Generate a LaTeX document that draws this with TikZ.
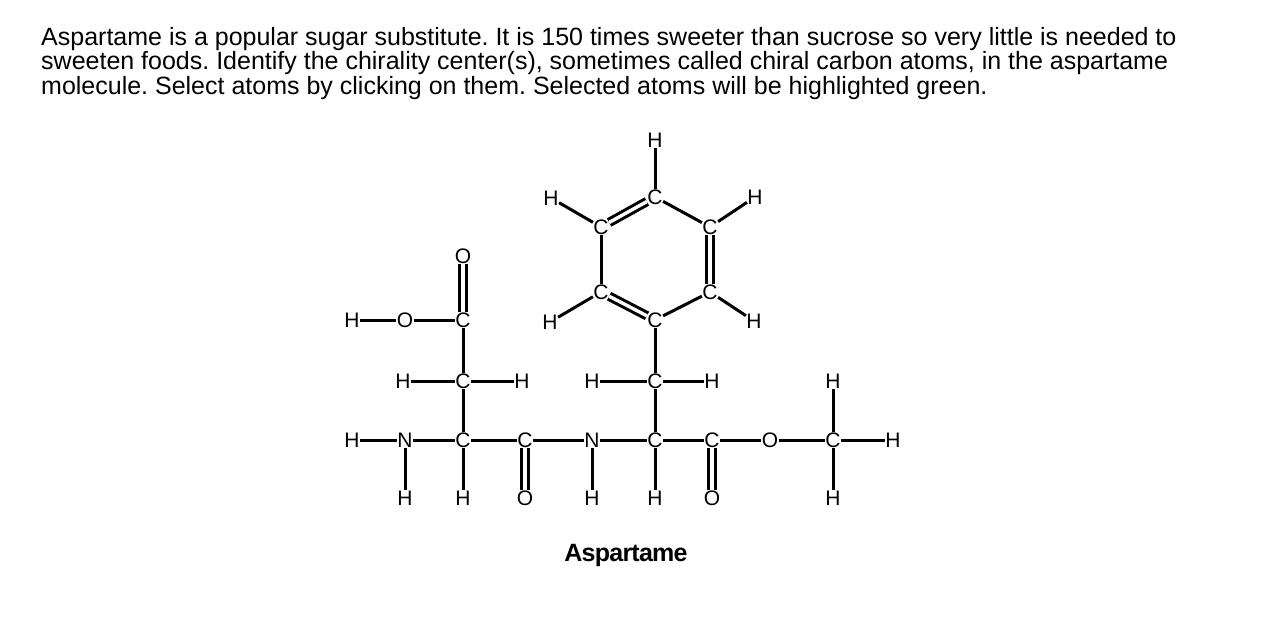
\documentclass[tikz,border=0pt]{standalone}
\usepackage{fontspec}
\setmainfont{Liberation Sans}
\begin{document}
\frenchspacing
\begin{tikzpicture}[x=1pt,y=-1pt,
 atm/.style={font=\fontsize{21}{21}\selectfont, inner sep=0.3pt},
 b/.style={line width=3pt},
 db/.style={line width=3pt, double, double distance=3.4pt}]
\useasboundingbox[fill=white] (0,0) rectangle (1266,626);
\node[anchor=north west, align=left, font=\fontsize{25}{24.5}\selectfont, inner sep=0] (txt) at (41,27)
{Aspartame is a popular sugar substitute. It is 150 times sweeter than sucrose so very little is needed to\\
sweeten foods. Identify the chirality center(s), sometimes called chiral carbon atoms, in the aspartame\\
molecule. Select atoms by clicking on them. Selected atoms will be highlighted green.};
% ring
\node[atm] (Ht) at (655,140) {H};
\node[atm] (C1) at (655,197) {C};
\node[atm] (C2) at (601,227) {C};
\node[atm] (C3) at (710,227) {C};
\node[atm] (C4) at (601,292) {C};
\node[atm] (C5) at (710,292) {C};
\node[atm] (C6) at (655,320) {C};
\node[atm] (H2) at (551,198) {H};
\node[atm] (H3) at (755,197) {H};
\node[atm] (H4) at (550,322) {H};
\node[atm] (H5) at (754,321) {H};
\draw[b] (Ht)--(C1); \draw[db] (C1)--(C2); \draw[b] (C1)--(C3);
\draw[b] (C2)--(C4); \draw[db] (C3)--(C5); \draw[db] (C4)--(C6); \draw[b] (C5)--(C6);
\draw[b] (H2)--(C2); \draw[b] (H3)--(C3); \draw[b] (H4)--(C4); \draw[b] (H5)--(C5);
% left part
\node[atm] (Ha) at (352,320) {H};
\node[atm] (Oa) at (405,320) {O};
\node[atm] (Ca) at (463,320) {C};
\node[atm] (Ob) at (463,256) {O};
\node[atm] (Hb) at (403,381) {H};
\node[atm] (Cb) at (463,381) {C};
\node[atm] (Hc) at (522,381) {H};
\node[atm] (Hd) at (352,440) {H};
\node[atm] (Na) at (405,440) {N};
\node[atm] (Cc) at (463,440) {C};
\node[atm] (Cd) at (525,440) {C};
\node[atm] (Nb) at (592,440) {N};
\node[atm] (He) at (405,498) {H};
\node[atm] (Hf) at (463,498) {H};
\node[atm] (Oc) at (525,498) {O};
\node[atm] (Hg) at (592,498) {H};
% right part
\node[atm] (Hh) at (592,381) {H};
\node[atm] (Ce) at (655,381) {C};
\node[atm] (Hi) at (712,381) {H};
\node[atm] (Cf) at (655,440) {C};
\node[atm] (Hj) at (655,498) {H};
\node[atm] (Cg) at (712,440) {C};
\node[atm] (Od) at (712,498) {O};
\node[atm] (Oe) at (770,440) {O};
\node[atm] (Ch) at (833,440) {C};
\node[atm] (Hk) at (833,381) {H};
\node[atm] (Hl) at (893,440) {H};
\node[atm] (Hm) at (833,498) {H};
\draw[b] (Ha)--(Oa); \draw[b] (Oa)--(Ca); \draw[db] (Ca)--(Ob);
\draw[b] (Ca)--(Cb); \draw[b] (Hb)--(Cb); \draw[b] (Cb)--(Hc); \draw[b] (Cb)--(Cc);
\draw[b] (Hd)--(Na); \draw[b] (Na)--(Cc); \draw[b] (Cc)--(Cd); \draw[b] (Cd)--(Nb);
\draw[b] (Na)--(He); \draw[b] (Cc)--(Hf); \draw[db] (Cd)--(Oc); \draw[b] (Nb)--(Hg);
\draw[b] (C6)--(Ce); \draw[b] (Hh)--(Ce); \draw[b] (Ce)--(Hi); \draw[b] (Ce)--(Cf);
\draw[b] (Nb)--(Cf); \draw[b] (Cf)--(Hj); \draw[b] (Cf)--(Cg); \draw[db] (Cg)--(Od);
\draw[b] (Cg)--(Oe); \draw[b] (Oe)--(Ch); \draw[b] (Ch)--(Hl); \draw[b] (Hk)--(Ch); \draw[b] (Ch)--(Hm);
\node[font=\bfseries\fontsize{25}{25}\selectfont, inner sep=0] (lab) at (626,555) {\addfontfeature{LetterSpace=-3}Aspartame};
\end{tikzpicture}
\end{document}
